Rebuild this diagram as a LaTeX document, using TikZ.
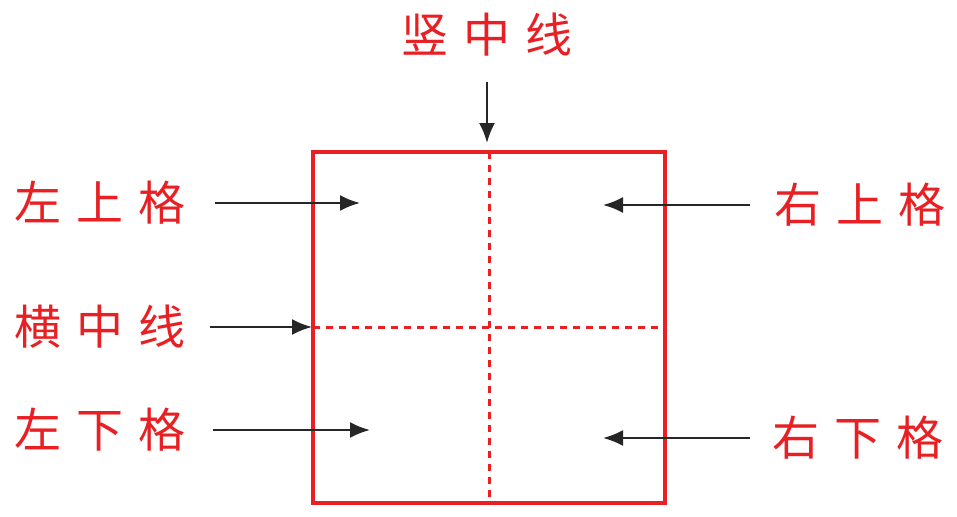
\documentclass[tikz,border=0pt]{standalone}
\usepackage{fontspec}
\newfontfamily\cjk{Noto Sans CJK SC}
\usetikzlibrary{arrows.meta}
\definecolor{rd}{RGB}{232,32,36}
\begin{document}
\begin{tikzpicture}[x=1pt,y=-1pt,
 lab/.style={text=rd,font=\cjk\fontsize{47}{47}\selectfont,inner sep=0pt},
 arr/.style={-{Latex[length=20pt,width=16pt]},line width=2.2pt,black!85}]
\useasboundingbox (0,0) rectangle (957,516);
\draw[rd,line width=3.5pt] (313,152) rectangle (665,503);
\draw[rd,line width=3pt,dash pattern=on 7pt off 6pt] (489,152) -- (489,503);
\draw[rd,line width=3pt,dash pattern=on 7pt off 6pt] (313,327) -- (665,327);
\node[lab] (t) at (487,35) {竖\hspace{15pt}中\hspace{15pt}线};
\node[lab] (lu) at (100,203) {左\hspace{15pt}上\hspace{15pt}格};
\node[lab] (h) at (100,327) {横\hspace{15pt}中\hspace{15pt}线};
\node[lab] (ld) at (100,430) {左\hspace{15pt}下\hspace{15pt}格};
\node[lab] (ru) at (860,205) {右\hspace{15pt}上\hspace{15pt}格};
\node[lab] (rd2) at (858,438) {右\hspace{15pt}下\hspace{15pt}格};
\coordinate (tt) at (487,143); \coordinate (lut) at (360,203);
\coordinate (ht) at (312,327); \coordinate (ldt) at (370,430);
\coordinate (rut) at (603,205); \coordinate (rdt) at (603,438);
\draw[arr] (487,82) -- (tt);
\draw[arr] (215,203) -- (lut);
\draw[arr] (210,327) -- (ht);
\draw[arr] (213,430) -- (ldt);
\draw[arr] (750,205) -- (rut);
\draw[arr] (750,438) -- (rdt);
\end{tikzpicture}
\end{document}
